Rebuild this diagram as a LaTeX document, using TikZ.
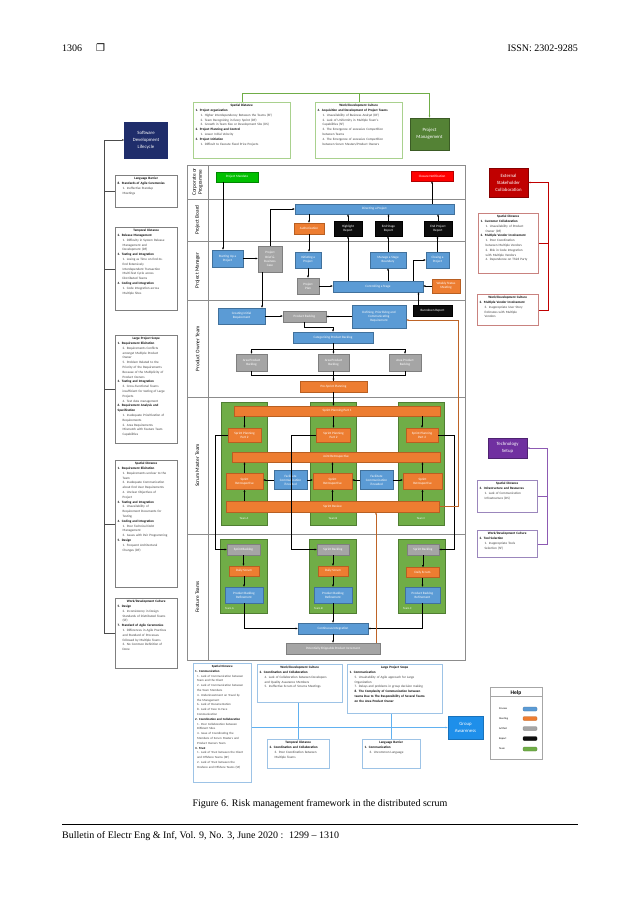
\documentclass[tikz,border=0pt]{standalone}
\usepackage{fontspec}
\setmainfont{Liberation Serif}
\newfontfamily\calfont{Carlito}
\newfontfamily\djvfont{DejaVu Sans}
\usetikzlibrary{arrows.meta}
\setlength{\parindent}{0pt}
\setlength{\parskip}{0pt}
\definecolor{procB}{HTML}{5B9BD5}
\definecolor{procBd}{HTML}{41719C}
\definecolor{meetO}{HTML}{ED7D31}
\definecolor{meetOd}{HTML}{B85F22}
\definecolor{artG}{HTML}{A5A5A5}
\definecolor{artGd}{HTML}{7F7F7F}
\definecolor{repK}{HTML}{0D0D0D}
\definecolor{teamG}{HTML}{70AD47}
\definecolor{teamGd}{HTML}{507E32}
\definecolor{mandG}{HTML}{00C000}
\definecolor{closR}{HTML}{FF0000}
\definecolor{sdlcN}{HTML}{1F2D6B}
\definecolor{pmG}{HTML}{548235}
\definecolor{escR}{HTML}{C00000}
\definecolor{techP}{HTML}{7030A0}
\definecolor{gaB}{HTML}{1E8FEA}
\definecolor{topBd}{HTML}{A9D18E}
\definecolor{leftBd}{HTML}{7F7F7F}
\definecolor{redBd}{HTML}{C9827F}
\definecolor{purBd}{HTML}{9B86BC}
\definecolor{botBd}{HTML}{9DC3E6}
\definecolor{itemC}{HTML}{404040}
\definecolor{laneC}{HTML}{8C8C8C}
\newcommand\rskT[1]{{\centering\bfseries #1\par}}
\newcommand\rskC[1]{{\bfseries #1\par}}
\newcommand\rskI[1]{{\leftskip=5pt\color{itemC}#1\par}}
\newcommand\rskB[1]{{\leftskip=5pt\bfseries #1\par}}
\begin{document}
\begin{tikzpicture}[x=1pt,y=-1pt]
\tikzset{
 pbox/.style={draw, line width=0.3pt, align=center, inner sep=0pt, text=white, font=\calfont\fontsize{3.3}{4.1}\selectfont},
 wh/.style 2 args={minimum width=#1pt, minimum height=#2pt},
 proc/.style={pbox, fill=procB, draw=procBd},
 meet/.style={pbox, fill=meetO, draw=meetOd},
 art/.style={pbox, fill=artG, draw=artGd},
 rep/.style={pbox, fill=repK, draw=black},
 teambox/.style={draw=teamGd, fill=teamG, line width=0.3pt, inner sep=0pt},
 bigbox/.style={draw, line width=0.4pt, align=center, inner sep=0pt, text=white, font=\calfont\fontsize{4.8}{7}\selectfont},
 rbox/.style 2 args={draw, fill=white, line width=0.5pt, anchor=north west, minimum width=#1pt, minimum height=#2pt, inner sep=0pt},
 rtext/.style={anchor=north west, align=left, inner xsep=2.5pt, inner ysep=2.2pt, font=\calfont\fontsize{3.3}{4.8}\selectfont},
 arr/.style={-{Latex[length=2.2pt,width=2pt]}},
 fl/.style={line width=0.35pt, black},
 lane/.style={line width=0.5pt, laneC},
 lanelab/.style={rotate=90, font=\calfont\fontsize{5.3}{6}\selectfont, align=center, inner sep=0pt},
 tlab/.style={font=\calfont\fontsize{2.9}{3}\selectfont, text=white, inner sep=0pt},
 leglab/.style={font=\calfont\fontsize{2.6}{3}\selectfont, anchor=west, inner sep=0pt},
 legsw/.style={minimum width=14pt, minimum height=4pt, inner sep=0pt, rounded corners=1pt, line width=0.3pt},
}
\useasboundingbox (0,0) rectangle (638,902);
\fill[white] (0,0) rectangle (638,902);

% ---------- header / footer ----------
\node[anchor=base west, inner sep=0pt, font=\fontsize{10}{12}\selectfont] (hnum) at (62,51) {1306};
\node[anchor=base west, inner sep=0pt, font=\djvfont\fontsize{10}{12}\selectfont] (hsym) at (96,51.5) {❐};
\node[anchor=base east, inner sep=0pt, font=\fontsize{10}{12}\selectfont] (hissn) at (578,51) {ISSN: 2302-9285};
\node[anchor=base, inner sep=0pt, font=\fontsize{10}{12}\selectfont] (cap) at (320,806) {Figure 6. Risk management framework in the distributed scrum};
\draw[line width=0.5pt] (62,824) -- (578,824);
\node[anchor=base west, inner sep=0pt, font=\fontsize{10}{12}\selectfont] (foot) at (62,838) {Bulletin of Electr Eng \& Inf, Vol. 9, No. 3, June 2020 :~ 1299 -- 1310};

% ---------- top risk boxes ----------
\node[rbox={97}{56}, draw=topBd] (spT) at (193,102) {};
\node[rtext, text width=92pt] (spTt) at (spT.north west) {
\rskT{Spatial Distance}
\rskC{1. Project organization}
\rskI{1. Higher Interdependency Between the Teams (SF)}
\rskI{2. Team Recognizing in Every Sprint (DF)}
\rskI{3. Growth in Team Size or Development Site (DS)}
\rskC{2. Project Planning and Control}
\rskI{1. Lower Initial Velocity}
\rskC{3. Project Initiation}
\rskI{1. Difficult to Execute Fixed Price Projects}};
\node[rbox={87}{56}, draw=topBd] (wdcT) at (315,102) {};
\node[rtext, text width=82pt] (wdcTt) at (wdcT.north west) {
\rskT{Work/Development Culture}
\rskC{4. Acquisition and Development of Project Teams}
\rskI{1. Unavailability of Business Analyst (DF)}
\rskI{2. Lack of Uniformity in Multiple Team's\newline Capabilities (SF)}
\rskI{3. The Emergence of excessive Competition\newline between Teams}
\rskI{4. The Emergence of excessive Competition\newline between Scrum Masters/Product Owners}};
\node[bigbox, fill=pmG, draw=pmG!70!black, wh={39}{32}] (pm) at (429.5,134) {Project\\Management};
\coordinate (gtop) at (0,93);
\draw[line width=0.5pt, teamG, arr] (spT.north) -- (spT.north |- gtop) -| (pm.north);
\draw[line width=0.5pt, teamG] (wdcT.north) -- (wdcT.north |- gtop);

% ---------- left column ----------
\node[bigbox, fill=sdlcN, draw=sdlcN, wh={43}{36}] (sdlc) at (146,140) {Software\\Development\\Lifecycle};
\node[rbox={62}{32}, draw=leftBd] (lbL) at (115,175) {};
\node[rtext, text width=57pt] (lbLt) at (lbL.north west) {
\rskT{Language Barrier}
\rskC{8. Standards of Agile Ceremonies}
\rskI{1. Ineffective Standup\newline Meetings}};
\node[rbox={62}{83}, draw=leftBd] (tdL) at (115,227) {};
\node[rtext, text width=57pt] (tdLt) at (tdL.north west) {
\rskT{Temporal Distance}
\rskC{2. Release Management}
\rskI{1. Difficulty in System Release\newline Management and\newline Development (DF)}
\rskC{3. Testing and Integration}
\rskI{1. Losing as Time on End-to-\newline End Extensively\newline Interdependent Transaction\newline Multi-Test Cycle across\newline Distributed Teams}
\rskC{4. Coding and Integration}
\rskI{1. Code Integration across\newline Multiple Sites}};
\node[rbox={62}{108}, draw=leftBd] (lpsL) at (115,335) {};
\node[rtext, text width=57pt] (lpsLt) at (lpsL.north west) {
\rskT{Large Project Scope}
\rskC{1. Requirement Elicitation}
\rskI{2. Requirements Conflicts\newline amongst Multiple Product\newline Owner}
\rskI{5. Problem Related to the\newline Priority of the Requirements\newline Because of the Multiplicity of\newline Product Owners}
\rskC{3. Testing and Integration}
\rskI{3. Cross-Functional Teams\newline insufficient for testing of Large\newline Projects}
\rskI{4. Test data management}
\rskC{6. Requirement Analysis and\newline Specification}
\rskI{1. Inadequate Prioritization of\newline Requirements}
\rskI{2. Area Requirements\newline Mismatch with Feature Team\newline Capabilities}};
\node[rbox={62}{127}, draw=leftBd] (sdL) at (115,460) {};
\node[rtext, text width=57pt] (sdLt) at (sdL.north west) {
\rskT{Spatial Distance}
\rskC{1. Requirement Elicitation}
\rskI{1. Requirements unclear to the\newline Team}
\rskI{3. Inadequate Communication\newline about End User Requirements}
\rskI{4. Unclear Objectives of\newline Project}
\rskC{3. Testing and Integration}
\rskI{2. Unavailability of\newline Requirement Documents for\newline Testing}
\rskC{4. Coding and Integration}
\rskI{1. Poor Technical Debt\newline Management}
\rskI{3. Issues with Pair Programming}
\rskC{5. Design}
\rskI{1. Frequent Architectural\newline Changes (DF)}};
\node[rbox={62}{70}, draw=leftBd] (wdcL) at (115,598) {};
\node[rtext, text width=57pt] (wdcLt) at (wdcL.north west) {
\rskT{Work/Development Culture}
\rskC{5. Design}
\rskI{2. Inconsistency in Design\newline Standards of Distributed Teams\newline (SF)}
\rskC{7. Standard of Agile Ceremonies}
\rskI{1. Differences in Agile Practices\newline and Standard of Processes\newline followed by Multiple Teams}
\rskI{3. No Common Definition of\newline Done}};
\coordinate (ltop) at (104,140);
\coordinate (lbot) at (104,633);
\draw[line width=0.5pt, black!70] (ltop) -- (lbot);
\draw[line width=0.5pt, black!70, arr] (ltop) -- (sdlc.west);
\foreach \bx in {lbL,tdL,lpsL,sdL,wdcL} \draw[line width=0.5pt, black!70] (\bx.west) -- (\bx.west -| ltop);

% ---------- swim lanes ----------
\draw[lane] (187,165) rectangle (465,660);
\draw[lane] (208,165) -- (208,660);
\foreach \yy in {199,241,300,397,534} \draw[lane] (187,\yy) -- (465,\yy);
\node[lanelab] (lnA) at (197.5,182) {Corporate or\\Programme};
\node[lanelab] (lnB) at (197.5,220) {Project Board};
\node[lanelab] (lnC) at (197.5,270.5) {Project Manager};
\node[lanelab] (lnD) at (197.5,348.5) {Product Owner Team};
\node[lanelab] (lnE) at (197.5,465.5) {Scrum Master Team};
\node[lanelab] (lnF) at (197.5,597) {Feature Teams};

% team containers
\node[teambox, wh={46}{123}] (tsA) at (244,463.5) {};
\node[teambox, wh={46}{123}] (tsB) at (333,463.5) {};
\node[teambox, wh={46}{123}] (tsC) at (421,463.5) {};
\node[teambox, wh={47}{74}] (tfA) at (243.5,576) {};
\node[teambox, wh={47}{74}] (tfB) at (332.5,576) {};
\node[teambox, wh={47}{74}] (tfC) at (421.5,576) {};
\node[tlab] (tsAl) at (244,519) {Team A};
\node[tlab] (tsBl) at (333,519) {Team B};
\node[tlab] (tsCl) at (421,519) {Team C};
\node[tlab, anchor=west] (tfAl) at (225,609) {Team A};
\node[tlab, anchor=west] (tfBl) at (314,609) {Team B};
\node[tlab, anchor=west] (tfCl) at (403,609) {Team C};

% ---------- process nodes ----------
\node[pbox, fill=mandG, draw=mandG!70!black, wh={42}{10}] (mandate) at (237,177) {Project Mandate};
\node[pbox, fill=closR, draw=closR!70!black, wh={42}{10}] (closure) at (432,176) {Closure Notification};
\node[proc, wh={159}{10}] (directing) at (374.5,209) {Directing a Project};
\node[meet, wh={30}{11}] (auth) at (309,228.5) {Authorization};
\node[rep, wh={28}{15}] (highlight) at (348,228.5) {Highlight\\Report};
\node[rep, wh={27}{15}] (endstage) at (388.5,228.5) {End Stage\\Report};
\node[rep, wh={28}{15}] (endproj) at (438,228.5) {End Project\\Report};
\node[proc, wh={31}{17}] (startup) at (227.5,258.5) {Starting Up a\\Project};
\node[art, wh={24}{26}] (brief) at (270,259) {Project\\Brief \&\\Business\\Case};
\node[proc, wh={26}{16}] (initiating) at (308,260) {Initiating a\\Project};
\node[proc, wh={36}{16}] (stage) at (388,260) {Manage a Stage\\Boundary};
\node[proc, wh={23}{16}] (closing) at (437.5,260) {Closing a\\Project};
\node[art, wh={22}{16}] (plan) at (308,286) {Project\\Plan};
\node[proc, wh={90}{11}] (controlling) at (378,286.5) {Controlling a Stage};
\node[meet, wh={28}{14}] (weekly) at (446,286) {Weekly Status\\Meeting};
\node[proc, wh={47}{16}] (creating) at (241.5,316) {Creating Initial\\Requirement};
\node[art, wh={43}{11}] (pbk) at (304.5,316.5) {Product Backlog};
\node[proc, wh={54}{23}] (defining) at (379,316.5) {Defining, Prioritizing and\\Communicating\\Requirement};
\node[rep, wh={39}{11}] (burndown) at (432.5,310.5) {Burndown Report};
\node[proc, wh={80}{11}] (categ) at (333,337.5) {Categorizing Product Backlog};
\node[art, wh={31}{17}] (apbA) at (251.5,362.5) {Area Product\\Backlog};
\node[art, wh={31}{17}] (apbB) at (333.5,362.5) {Area Product\\Backlog};
\node[art, wh={32}{17}] (apbC) at (405,362.5) {Area Product\\Backlog};
\node[meet, wh={67}{11}] (presprint) at (333.5,386.5) {Pre-Sprint Planning};
\node[meet, wh={206}{10}] (spone) at (337,411) {Sprint Planning Part 1};
\node[meet, wh={33}{14}] (sptA) at (244.5,435) {Sprint Planning\\Part 2};
\node[meet, wh={34}{14}] (sptB) at (333.5,435) {Sprint Planning\\Part 2};
\node[meet, wh={32}{14}] (sptC) at (422,435) {Sprint Planning\\Part 2};
\node[meet, wh={208}{10}] (joint) at (336,457) {Joint Retrospective};
\node[meet, wh={37}{16}] (srA) at (244.5,481.5) {Sprint\\Retrospective};
\node[meet, wh={39}{16}] (srB) at (332.5,481.5) {Sprint\\Retrospective};
\node[meet, wh={39}{16}] (srC) at (422.5,481.5) {Sprint\\Retrospective};
\node[proc, wh={33}{19}] (facA) at (290.5,480) {Facilitate\\Communication\\if needed};
\node[proc, wh={33}{19}] (facB) at (376.5,480) {Facilitate\\Communication\\if needed};
\node[meet, wh={213}{11}] (review) at (332.5,506.5) {Sprint Review};
\node[art, wh={33}{11}] (sbA) at (243.5,549.5) {Sprint Backlog};
\node[art, wh={32}{11}] (sbB) at (333,549.5) {Sprint Backlog};
\node[art, wh={32}{11}] (sbC) at (423,549.5) {Sprint Backlog};
\node[meet, wh={30}{10}] (dsA) at (244,571) {Daily Scrum};
\node[meet, wh={30}{10}] (dsB) at (333,571) {Daily Scrum};
\node[meet, wh={33}{10}] (dsC) at (422.5,572.5) {Daily Scrum};
\node[proc, wh={38}{16}] (pbrA) at (244,595) {Product Backlog\\Refinement};
\node[proc, wh={38}{16}] (pbrB) at (333,595) {Product Backlog\\Refinement};
\node[proc, wh={35}{16}] (pbrC) at (422.5,595) {Product Backlog\\Refinement};
\node[proc, wh={70}{11}] (ci) at (333,628.5) {Continuous Integration};
\node[art, wh={94}{11}] (psi) at (333,648.5) {Potentially Shippable Product Increment};

% ---------- process connectors ----------
\draw[fl,arr] ([xshift=-14pt]mandate.south) -- ([xshift=-14pt]mandate.south |- startup.north);
\draw[fl,arr] (startup.east) -- (startup.east -| brief.west);
\draw[fl,arr] (brief.north) |- (directing.west);
\draw[fl,arr] ([xshift=-8pt]brief.south) -- ([xshift=-8pt]brief.south |- creating.north);
\draw[fl,arr] (auth.north |- directing.south) -- (auth.north);
\draw[fl,arr] (auth.south) -- (auth.south |- initiating.north);
\draw[fl,arr] (initiating.south) -- (initiating.south |- plan.north);
\draw[fl,arr] (plan.east) -- (plan.east -| controlling.west);
\draw[fl,arr] (highlight.south |- controlling.north) -- (highlight.south);
\draw[fl,arr] (highlight.north) -- (highlight.north |- directing.south);
\draw[fl,arr] (stage.south |- controlling.north) -- (stage.south);
\draw[fl,arr] (stage.north) -- (stage.north |- endstage.south);
\draw[fl,arr] (endstage.north) -- (endstage.north |- directing.south);
\draw[fl,arr] ([xshift=35pt]controlling.north) |- (closing.west);
\draw[fl,arr] (closing.north) -- (closing.north |- endproj.south);
\draw[fl,arr] (endproj.north) -- (endproj.north |- directing.south);
\draw[fl,arr] (closure.south |- directing.north) -- (closure.south);
\draw[fl,arr] (weekly.west) -- (weekly.west -| controlling.east);
\draw[fl,arr] ([xshift=-14pt]burndown.north) -- ([xshift=-14pt]burndown.north |- controlling.south);
\draw[fl,arr] (creating.east) -- (creating.east -| pbk.west);
\draw[fl,arr] (defining.west) -- (defining.west -| pbk.east);
\draw[fl,arr] (pbk.south) -- ++(0,5) -| (categ.north);
\draw[fl] (categ.south) -- ++(0,6) coordinate (cbar);
\foreach \a in {apbA,apbB,apbC} \draw[fl,arr] (cbar) -| (\a.north);
\foreach \a in {apbA,apbB,apbC} \draw[fl] (\a.south) -- ++(0,4) -| (presprint.north);
\draw[fl,arr] (apbB.south |- 0,375) -- (presprint.north);
\draw[fl,arr] (presprint.south) -- (presprint.south |- spone.north);
\foreach \a in {sptA,sptB,sptC} \draw[fl,arr] (\a.north |- spone.south) -- (\a.north);
\foreach \a in {srA,srB,srC} {
  \draw[fl,arr] (\a.north) -- (\a.north |- joint.south);
  \draw[fl,arr] (\a.south |- review.north) -- (\a.south);
}
\draw[fl,arr] (facA.west) -- (facA.west -| srA.east);
\draw[fl,arr] (facA.east) -- (facA.east -| srB.west);
\draw[fl,arr] (facB.west) -- (facB.west -| srB.east);
\draw[fl,arr] (facB.east) -- (facB.east -| srC.west);
\draw[fl,arr] (sptA.west) -- ++(-13,0) |- (sbA.west);
\draw[fl,arr] (sptB.west) -- ++(-25,0) |- (sbB.west);
\draw[fl,arr] (sptC.east) -- ++(16,0) |- (sbC.east);
\foreach \t in {A,B,C} {
  \draw[fl,arr] (sb\t.south) -- (sb\t.south |- ds\t.north);
  \draw[fl,arr] (ds\t.south) -- (ds\t.south |- pbr\t.north);
}
\draw[fl,arr] (pbrA.south) |- (ci.west);
\draw[fl,arr] (pbrB.south) -- (pbrB.south |- ci.north);
\draw[fl,arr] (pbrC.south) |- (ci.east);
\draw[fl,arr] (ci.south) -- (ci.south |- psi.north);
\draw[line width=0.35pt, meetO!80!black, arr] ([xshift=43pt]psi.north) -- ([xshift=43pt]psi.north |- review.south);
\draw[line width=0.35pt, meetO!80!black, arr] (review.east) -- ++(19,0) |- ([yshift=-3.5pt]defining.east);

% ---------- right column ----------
\node[bigbox, fill=escR, draw=escR!70!black, wh={39}{29}] (esc) at (508.5,182.5) {External\\Stakeholder\\Collaboration};
\node[rbox={60}{60}, draw=redBd] (sdR) at (478,213) {};
\node[rtext, text width=55pt] (sdRt) at (sdR.north west) {
\rskT{Spatial Distance}
\rskC{1. Customer Collaboration}
\rskI{1. Unavailability of Product\newline Owner (DF)}
\rskC{2. Multiple Vendor Involvement}
\rskI{1. Poor Coordination\newline between Multiple Vendors}
\rskI{2. Risk in Code Integration\newline with Multiple Vendors}
\rskI{4. Dependence on Third Party}};
\node[rbox={61}{31}, draw=redBd] (wdcR) at (477,294) {};
\node[rtext, text width=56pt] (wdcRt) at (wdcR.north west) {
\rskT{Work/Development Culture}
\rskC{2. Multiple Vendor Involvement}
\rskI{3. Inappropriate User Story\newline Estimates with Multiple\newline Vendors}};
\draw[line width=0.5pt, escR, arr] (sdR.east) -- ++(10,0) |- (esc.east);
\draw[line width=0.5pt, escR] (wdcR.east) -- ++(10,0) |- (sdR.east -| 548,0);

\node[bigbox, fill=techP, draw=techP!70!black, wh={39}{20}] (tech) at (507.5,448) {Technology\\Setup};
\node[rbox={60}{32}, draw=purBd] (sdP) at (477,480) {};
\node[rtext, text width=55pt] (sdPt) at (sdP.north west) {
\rskT{Spatial Distance}
\rskC{3. Infrastructure and Resources}
\rskI{1. Lack of Communication\newline Infrastructure (DS)}};
\node[rbox={60}{27}, draw=purBd] (wdcP) at (477,530) {};
\node[rtext, text width=55pt] (wdcPt) at (wdcP.north west) {
\rskT{Work/Development Culture}
\rskC{2. Tool Selection}
\rskI{1. Inappropriate Tools\newline Selection (SF)}};
\draw[line width=0.5pt, techP!80, arr] (sdP.east) -- ++(10,0) |- (tech.east);
\draw[line width=0.5pt, techP!80] (wdcP.east) -- ++(10,0) |- (sdP.east -| 547,0);

% ---------- bottom ----------
\node[rbox={58}{119}, draw=botBd] (sdB) at (193,663) {};
\node[rtext, text width=54pt, inner xsep=2pt, font=\calfont\fontsize{3.1}{4.8}\selectfont] (sdBt) at (sdB.north west) {
\rskT{Spatial Distance}
\rskC{1. Communication}
{\leftskip=2pt\color{itemC}1. Lack of Communication between\newline Team and the Client\par}
{\leftskip=2pt\color{itemC}2. Lack of Communication between\newline the Team Members\par}
{\leftskip=2pt\color{itemC}4. Underinvestment on Travel by\newline the Management\par}
{\leftskip=2pt\color{itemC}6. Lack of Documentation\par}
{\leftskip=2pt\color{itemC}8. Lack of Face to Face\newline Communication\par}
\rskC{2. Coordination and Collaboration}
{\leftskip=2pt\color{itemC}1. Poor Collaboration between\newline Different Sites\par}
{\leftskip=2pt\color{itemC}4. Issue of Coordinating the\newline Members of Scrum Masters and\newline Product Owners Team\par}
\rskC{3. Trust}
{\leftskip=2pt\color{itemC}1. Lack of Trust between the Client\newline and Offshore Teams (DF)\par}
{\leftskip=2pt\color{itemC}2. Lack of Trust between the\newline Onshore and Offshore Teams (SF)\par}};
\node[rbox={85}{38}, draw=botBd] (wdcB) at (257,664) {};
\node[rtext, text width=80pt] (wdcBt) at (wdcB.north west) {
\rskT{Work/Development Culture}
\rskC{2. Coordination and Collaboration}
\rskI{4. Lack of Collaboration between Developers\newline and Quality Assurance Members}
\rskI{5. Ineffective Scrum of Scrums Meetings}};
\node[rbox={95}{49}, draw=botBd] (lpsB) at (347,664) {};
\node[rtext, text width=90pt] (lpsBt) at (lpsB.north west) {
\rskT{Large Project Scope}
\rskC{1. Communication}
\rskI{5. Unsuitability of Agile approach for Large\newline Organization}
\rskI{7. Delays and problems in group decision making}
\rskB{8. The Complexity of Communication between\newline teams Due to The Responsibility of Several Teams\newline on the Area Product Owner}};
\node[rbox={62}{29}, draw=botBd] (tdB) at (267,739) {};
\node[rtext, text width=57pt] (tdBt) at (tdB.north west) {
\rskT{Temporal Distance}
\rskC{2. Coordination and Collaboration}
\rskI{3. Poor Coordination between\newline Multiple Teams}};
\node[rbox={58}{29}, draw=botBd] (lbB) at (362,739) {};
\node[rtext, text width=53pt] (lbBt) at (lbB.north west) {
\rskT{Language Barrier}
\rskC{1. Communication}
\rskI{3. Uncommon Language}};
\node[bigbox, fill=gaB, draw=gaB!80!black, wh={35}{23}] (ga) at (465.5,727.5) {Group\\Awareness};
\draw[line width=0.5pt, gaB!70, arr] (sdB.east |- ga.west) -- (ga.west);
\draw[line width=0.5pt, gaB!70] (tdB.north) -- (tdB.north |- wdcB.south);
\draw[line width=0.5pt, gaB!70] (lbB.north) -- (lbB.north |- lpsB.south);

% ---------- legend ----------
\node[rbox={52}{72}, draw=gray!70] (help) at (490,687) {};
\node[font=\calfont\bfseries\fontsize{5.5}{6}\selectfont, inner sep=0pt] (helpt) at (516,692.5) {Help};
\draw[line width=0.5pt, gray!70] (help.west |- helpt.south) ++(0,1.5) -- ++(52,0);
\node[leglab] (lgPt) at (499,709) {Process};
\node[leglab] (lgMt) at (499,718.5) {Meeting};
\node[leglab] (lgAt) at (499,728.5) {Artifact};
\node[leglab] (lgRt) at (499,738.5) {Report};
\node[leglab] (lgTt) at (499,749) {Team};
\node[legsw, fill=procB, draw=procBd] (lgPs) at (530,709) {};
\node[legsw, fill=meetO, draw=meetOd] (lgMs) at (530,718.5) {};
\node[legsw, fill=artG, draw=artGd] (lgAs) at (530,728.5) {};
\node[legsw, fill=repK, draw=black] (lgRs) at (530,738.5) {};
\node[legsw, fill=teamG, draw=teamGd] (lgTs) at (530,749) {};
\end{tikzpicture}
\end{document}
